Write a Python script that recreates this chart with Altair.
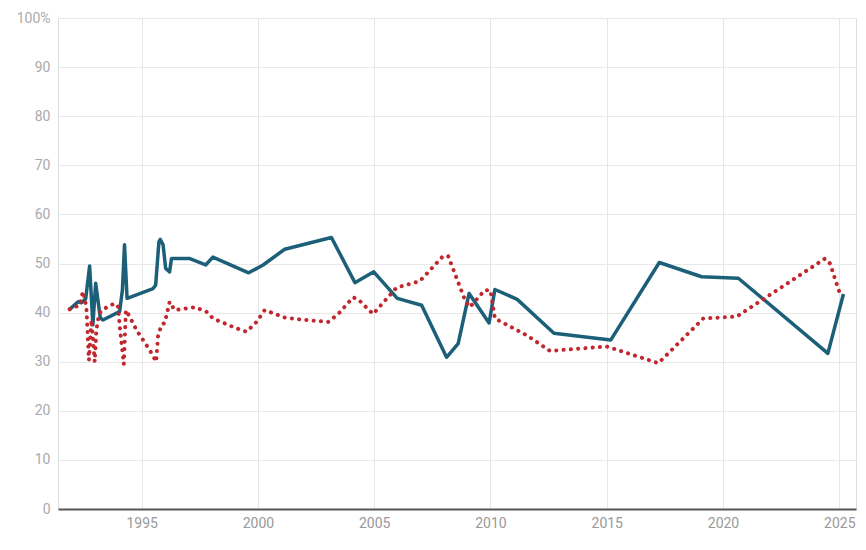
import altair as alt
import pandas as pd

# Solid (blue) series: decimal year, percent
blue_years = [1991.87, 1992.26, 1992.41, 1992.59, 1992.76, 1992.90, 1993.02, 1993.22, 1993.33,
              1994.05, 1994.17, 1994.26, 1994.37, 1995.49, 1995.60, 1995.74, 1995.80, 1995.92,
              1996.03, 1996.20, 1996.28, 1997.07, 1997.75, 1998.06, 1999.60, 2000.22, 2001.15,
              2003.16, 2004.17, 2004.98, 2005.99, 2007.04, 2008.11, 2008.61, 2009.08, 2009.94,
              2010.19, 2011.15, 2012.73, 2015.17, 2017.26, 2019.08, 2020.66, 2024.51, 2025.18]
blue_values = [40.5, 42.2, 42.0, 42.8, 49.5, 37.5, 46.0, 38.9, 38.5,
               40.2, 44.6, 53.8, 42.9, 44.9, 45.6, 54.4, 54.9, 53.8,
               49.0, 48.3, 51.0, 51.0, 49.7, 51.3, 48.1, 49.7, 52.9,
               55.3, 46.1, 48.3, 42.9, 41.5, 30.9, 33.7, 43.9, 37.9,
               44.7, 42.7, 35.8, 34.4, 50.2, 47.3, 47.0, 31.7, 43.8]

# Dotted (red) series
red_years = [1991.90, 1992.33, 1992.47, 1992.62, 1992.73, 1992.84, 1992.98, 1993.05, 1993.16,
             1993.27, 1993.84, 1993.98, 1994.05, 1994.23, 1994.32, 1994.48, 1994.77, 1995.34,
             1995.62, 1995.70, 1995.85, 1995.99, 1996.20, 1996.42, 1997.28, 1997.78, 1998.07,
             1999.07, 1999.51, 1999.94, 2000.29, 2001.15, 2001.80, 2003.02, 2003.45, 2004.09,
             2004.31, 2004.95, 2005.96, 2006.96, 2007.96, 2008.18, 2008.90, 2009.11, 2009.76,
             2010.00, 2010.19, 2011.55, 2012.56, 2014.99, 2017.22, 2019.15, 2020.59, 2021.88,
             2024.39, 2024.60, 2025.06]
red_values = [40.7, 41.5, 44.3, 41.2, 30.3, 38.5, 30.0, 36.5, 39.5,
              40.5, 41.9, 41.2, 37.5, 29.5, 40.5, 39.2, 36.5, 32.4,
              30.0, 35.1, 37.5, 37.9, 42.2, 40.5, 41.1, 40.2, 38.8,
              36.8, 36.1, 38.1, 40.5, 39.0, 38.6, 38.1, 39.7, 43.1,
              42.7, 39.7, 45.1, 46.4, 51.5, 51.5, 42.6, 41.1, 44.6,
              44.5, 38.8, 35.4, 32.2, 33.1, 29.7, 38.8, 39.2, 43.2,
              51.0, 50.0, 43.4]

x_ticks = [1995, 2000, 2005, 2010, 2015, 2020, 2025]
y_ticks = [0, 10, 20, 30, 40, 50, 60, 70, 80, 90, 100]

blue_df = pd.DataFrame({"year": blue_years, "value": blue_values})
red_df = pd.DataFrame({"year": red_years, "value": red_values})

x_enc = alt.X("year:Q",
              scale=alt.Scale(domain=[1991.4, 2025.72], nice=False, zero=False),
              axis=alt.Axis(values=x_ticks, format="d", title=None, grid=True,
                            ticks=False, domain=True, domainColor="#555555", domainWidth=2,
                            labelColor="#999999", labelFontSize=14, labelPadding=7,
                            labelFont="Roboto", gridColor="#e6e6e6", labelFlush=False))
y_enc = alt.Y("value:Q",
              scale=alt.Scale(domain=[0, 100], nice=False),
              axis=alt.Axis(values=y_ticks, title=None, grid=True, ticks=False, domain=False,
                            labelColor="#aaaaaa", labelFontSize=14, labelPadding=8,
                            labelFont="Roboto", gridColor="#e8e8e8",
                            labelExpr="datum.value == 100 ? '100%' : datum.label"))

blue = alt.Chart(blue_df).mark_line(color="#1c5f78", strokeWidth=3.5, strokeJoin="round").encode(
    x=x_enc, y=y_enc, order="year:Q")
red = alt.Chart(red_df).mark_line(color="#c1272d", strokeWidth=4, strokeDash=[0.1, 7.2],
                                  strokeCap="round", strokeJoin="round").encode(
    x="year:Q", y="value:Q", order="year:Q")

chart = alt.layer(blue, red).properties(
    width=798, height=491,
    autosize=alt.AutoSizeParams(type="none"),
    padding={"left": 50, "top": 10, "right": 2, "bottom": 28},
).configure_view(stroke=None).configure(background="white")

chart.save("out.html", embed_options={"renderer": "svg", "actions": False})
